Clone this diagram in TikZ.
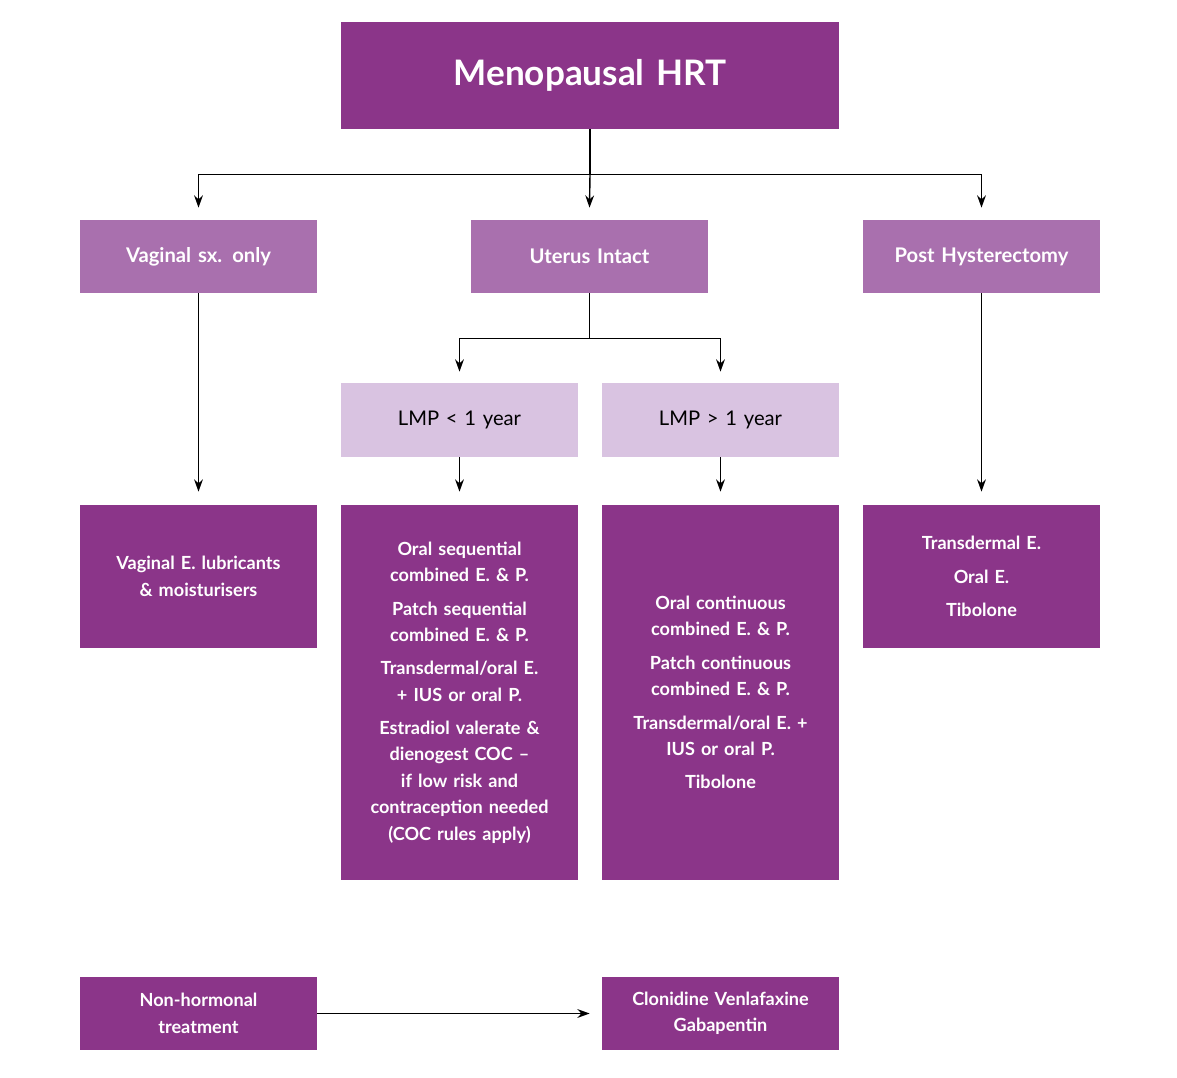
\documentclass[tikz,border=0pt]{standalone}
\usepackage{fontspec}
\setmainfont{Lato}
\usetikzlibrary{arrows.meta,calc}
\definecolor{dp}{HTML}{8B3589}
\definecolor{mp}{HTML}{A970AE}
\definecolor{lp}{HTML}{D9C3E1}
\begin{document}
\begin{tikzpicture}[x=0.02cm,y=-0.02cm,
  box/.style={fill=#1,draw=none,inner sep=0pt,minimum width=4.74cm,align=center,text width=4.3cm},
  dbox/.style={box=dp,text=white,font=\bfseries\fontsize{10.3}{15}\selectfont},
  mbox/.style={box=mp,text=white,minimum height=1.46cm,font=\bfseries\fontsize{11.5}{14}\selectfont},
  lbox/.style={box=lp,text=black,minimum height=1.48cm,font=\fontsize{11.5}{14}\selectfont},
  arr/.style={-{Stealth[length=7pt,width=5pt]},line width=0.8pt},
  ln/.style={line width=0.8pt}]
\useasboundingbox (0,0) rectangle (1177,1078);
\node[box=dp,text=white,minimum width=9.96cm,minimum height=2.14cm,text width=9cm,font=\bfseries\fontsize{20}{24}\selectfont] (title) at (590,75.5) {Menopausal HRT};
\node[mbox] (vag) at (198.5,256.5) {Vaginal sx. only};
\node[mbox] (ut) at (589.5,256.5) {Uterus Intact};
\node[mbox] (post) at (981.5,256.5) {Post Hysterectomy};
\node[lbox] (lmp1) at (459.5,420) {LMP < 1 year};
\node[lbox] (lmp2) at (720.5,420) {LMP > 1 year};
\node[dbox,minimum height=2.86cm] (vagE) at (198.5,576.5) {Vaginal E. lubricants\\ \& moisturisers};
\node[dbox,minimum height=7.5cm] (seq) at (459.5,692.5) {Oral sequential\\combined E. \& P.\\[4pt]Patch sequential\\combined E. \& P.\\[4pt]Transdermal/oral E.\\+ IUS or oral P.\\[4pt]Estradiol valerate \&\\dienogest COC –\\if low risk and\\contraception needed\\(COC rules apply)};
\node[dbox,minimum height=7.5cm] (cont) at (720.5,692.5) {Oral continuous\\combined E. \& P.\\[4pt]Patch  continuous\\combined E. \& P.\\[4pt]Transdermal/oral E. +\\IUS or oral P.\\[4pt]Tibolone};
\node[dbox,minimum height=2.86cm] (td) at (981.5,576.5) {Transdermal E.\\[4pt]Oral E.\\[4pt]Tibolone};
\node[dbox,minimum height=1.46cm] (non) at (198.5,1013.5) {Non-hormonal\\treatment};
\node[dbox,minimum height=1.46cm] (clo) at (720.5,1013.5) {Clonidine Venlafaxine\\Gabapentin};
\coordinate (j1) at ($(title.south)+(0,45)$);
\draw[ln] (title.south) -- (j1);
\draw[arr] (j1) -| ($(vag.north)+(0,-12)$);
\draw[arr] (j1) -| ($(post.north)+(0,-12)$);
\draw[arr] (j1) -- ($(ut.north)+(0,-12)$);
\coordinate (j2) at ($(ut.south)+(0,45)$);
\draw[ln] (ut.south) -- (j2);
\draw[arr] (j2) -| ($(lmp1.north)+(0,-11)$);
\draw[arr] (j2) -| ($(lmp2.north)+(0,-11)$);
\draw[arr] (lmp1.south) -- ($(seq.north)+(0,-13)$);
\draw[arr] (lmp2.south) -- ($(cont.north)+(0,-13)$);
\draw[arr] (vag.south) -- ($(vagE.north)+(0,-13)$);
\draw[arr] (post.south) -- ($(td.north)+(0,-13)$);
\draw[arr] (non.east) -- ($(clo.west)+(-12,0)$);
\end{tikzpicture}
\end{document}
